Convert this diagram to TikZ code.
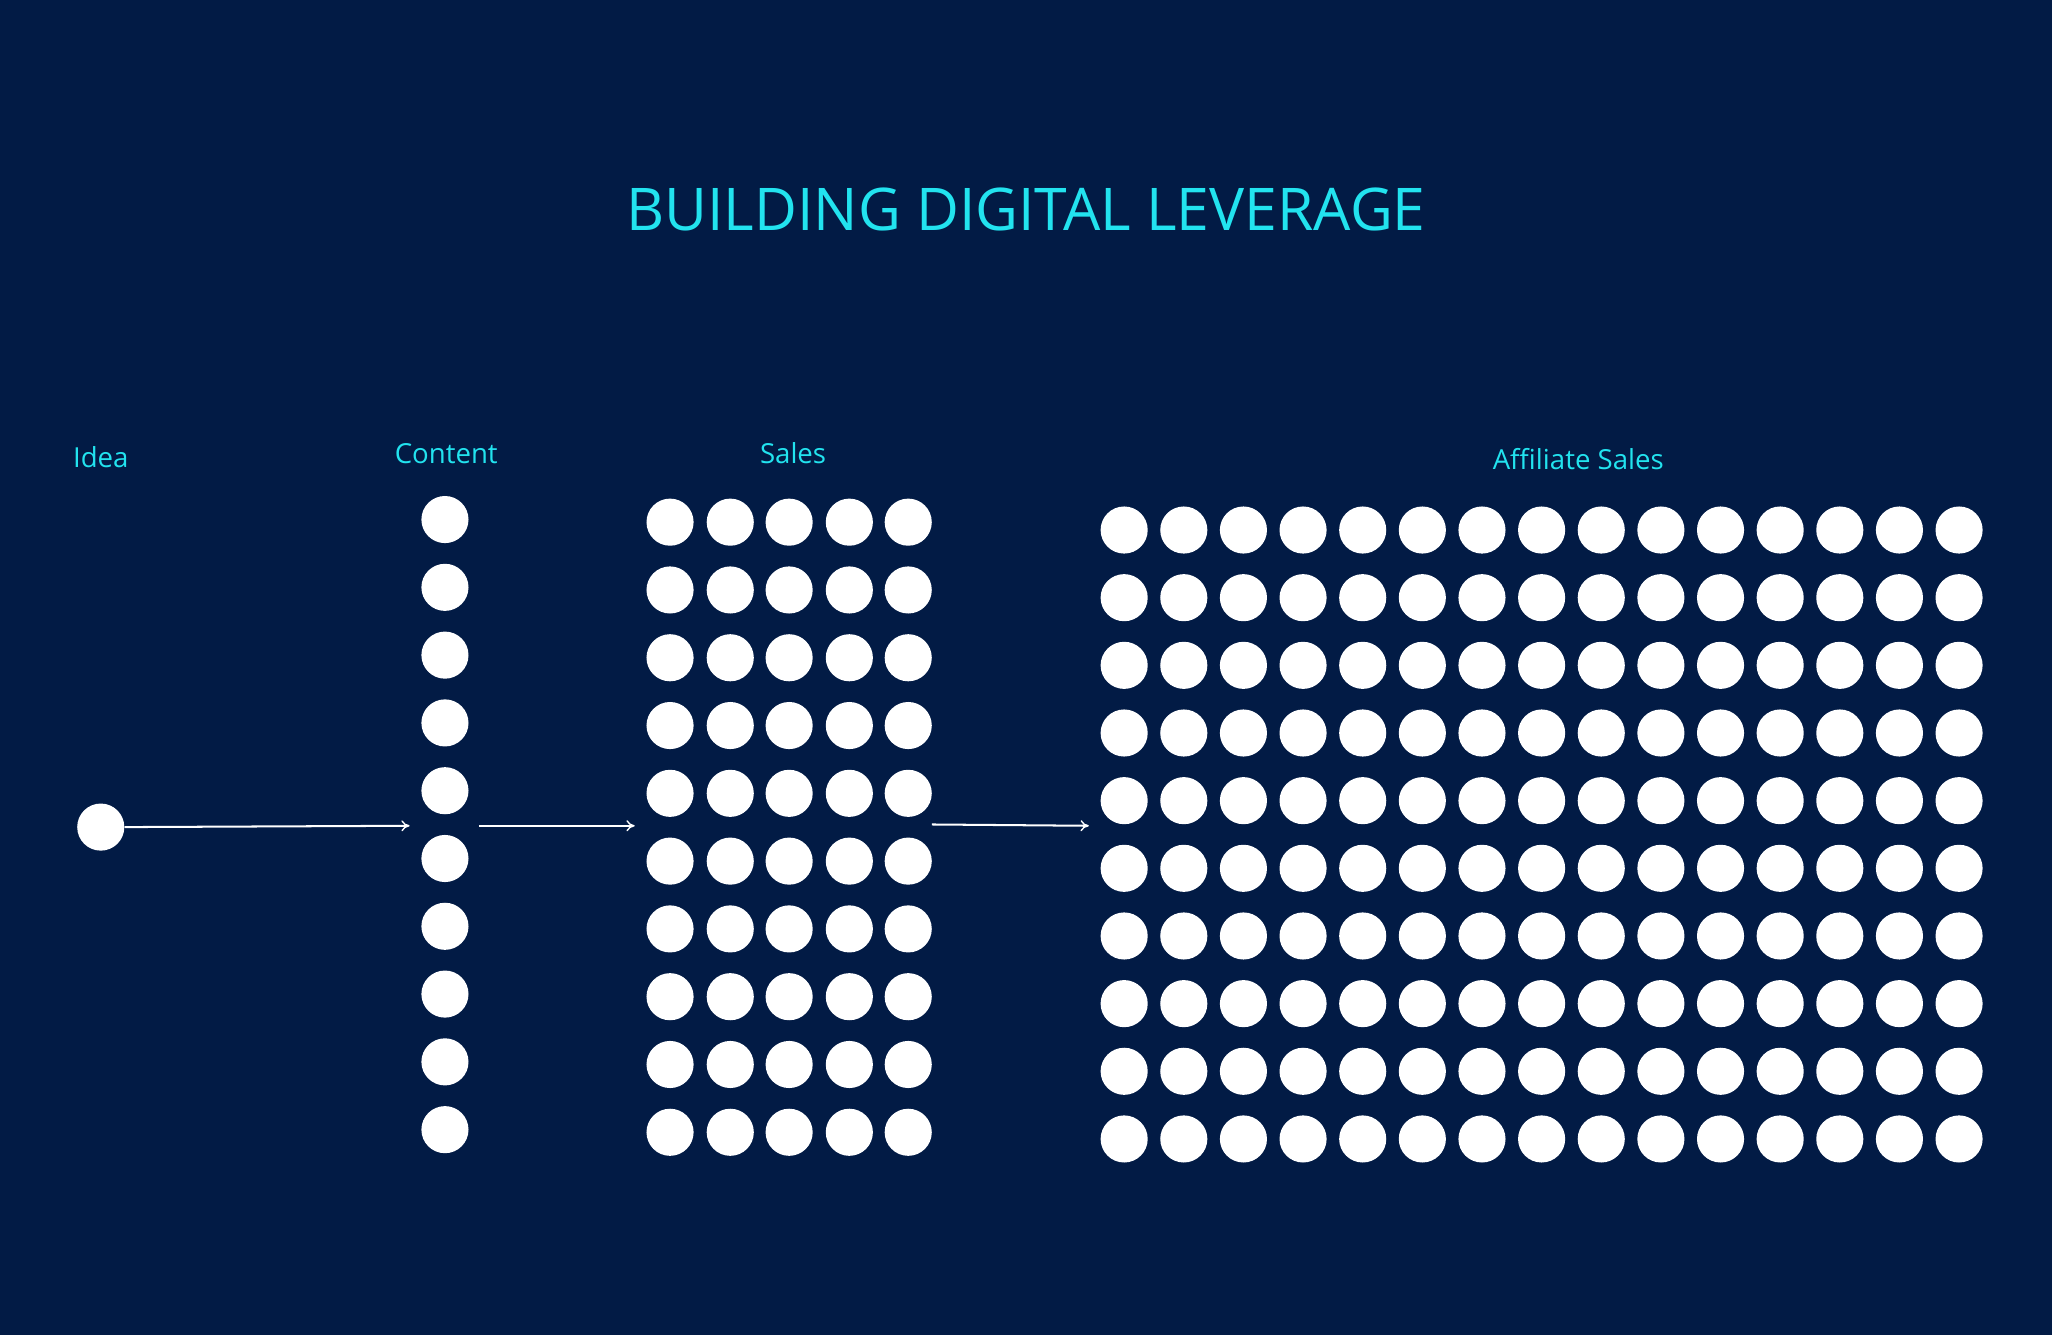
\documentclass[tikz,border=0pt]{standalone}
\usepackage{fontspec}
\setmainfont{Open Sans}
\usetikzlibrary{arrows.meta}
\definecolor{bg}{HTML}{021B45}
\definecolor{cy}{HTML}{22E3EF}
\begin{document}
\begin{tikzpicture}[x=0.05cm,y=-0.05cm,
  dot/.style={circle,fill=white,inner sep=0pt,minimum size=36*0.05cm},
  lbl/.style={text=cy,font=\fontsize{30}{32}\selectfont},
  arr/.style={white,line width=2.2pt,-{To[length=9pt,width=12pt,line width=1.5pt]}}]
\fill[bg] (0,0) rectangle (1568,1020);
\useasboundingbox (0,0) rectangle (1568,1020);
\node[text=cy,font=\fontsize{64}{70}\selectfont] (title) at (784,160) {BUILDING DIGITAL LEVERAGE};
\node[lbl] (lidea) at (77,349) {Idea};
\node[lbl] (lcont) at (341,347) {Content};
\node[lbl] (lsales) at (606,346) {Sales};
\node[lbl] (laff) at (1206,351) {Affiliate Sales};
\node[dot] (idea) at (77,632) {};
\foreach \r in {0,...,9}{
  \node[dot] (c\r) at (340,397+51.8*\r) {};
  \foreach \c/\x in {0/512,1/558,2/603,3/649,4/694}
    \node[dot] (s\c-\r) at (\x,399+51.8*\r) {};
  \foreach \c in {0,...,14}
    \node[dot] (a\c-\r) at (859+45.57*\c,405+51.7*\r) {};
}
\coordinate (e1) at (313,631);
\coordinate (b2) at (366,631);
\coordinate (e2) at (485,631);
\coordinate (b3) at (712,630);
\coordinate (e3) at (832,631);
\draw[arr] (idea.east) -- (e1);
\draw[arr] (b2) -- (e2);
\draw[arr] (b3) -- (e3);
\end{tikzpicture}
\end{document}
